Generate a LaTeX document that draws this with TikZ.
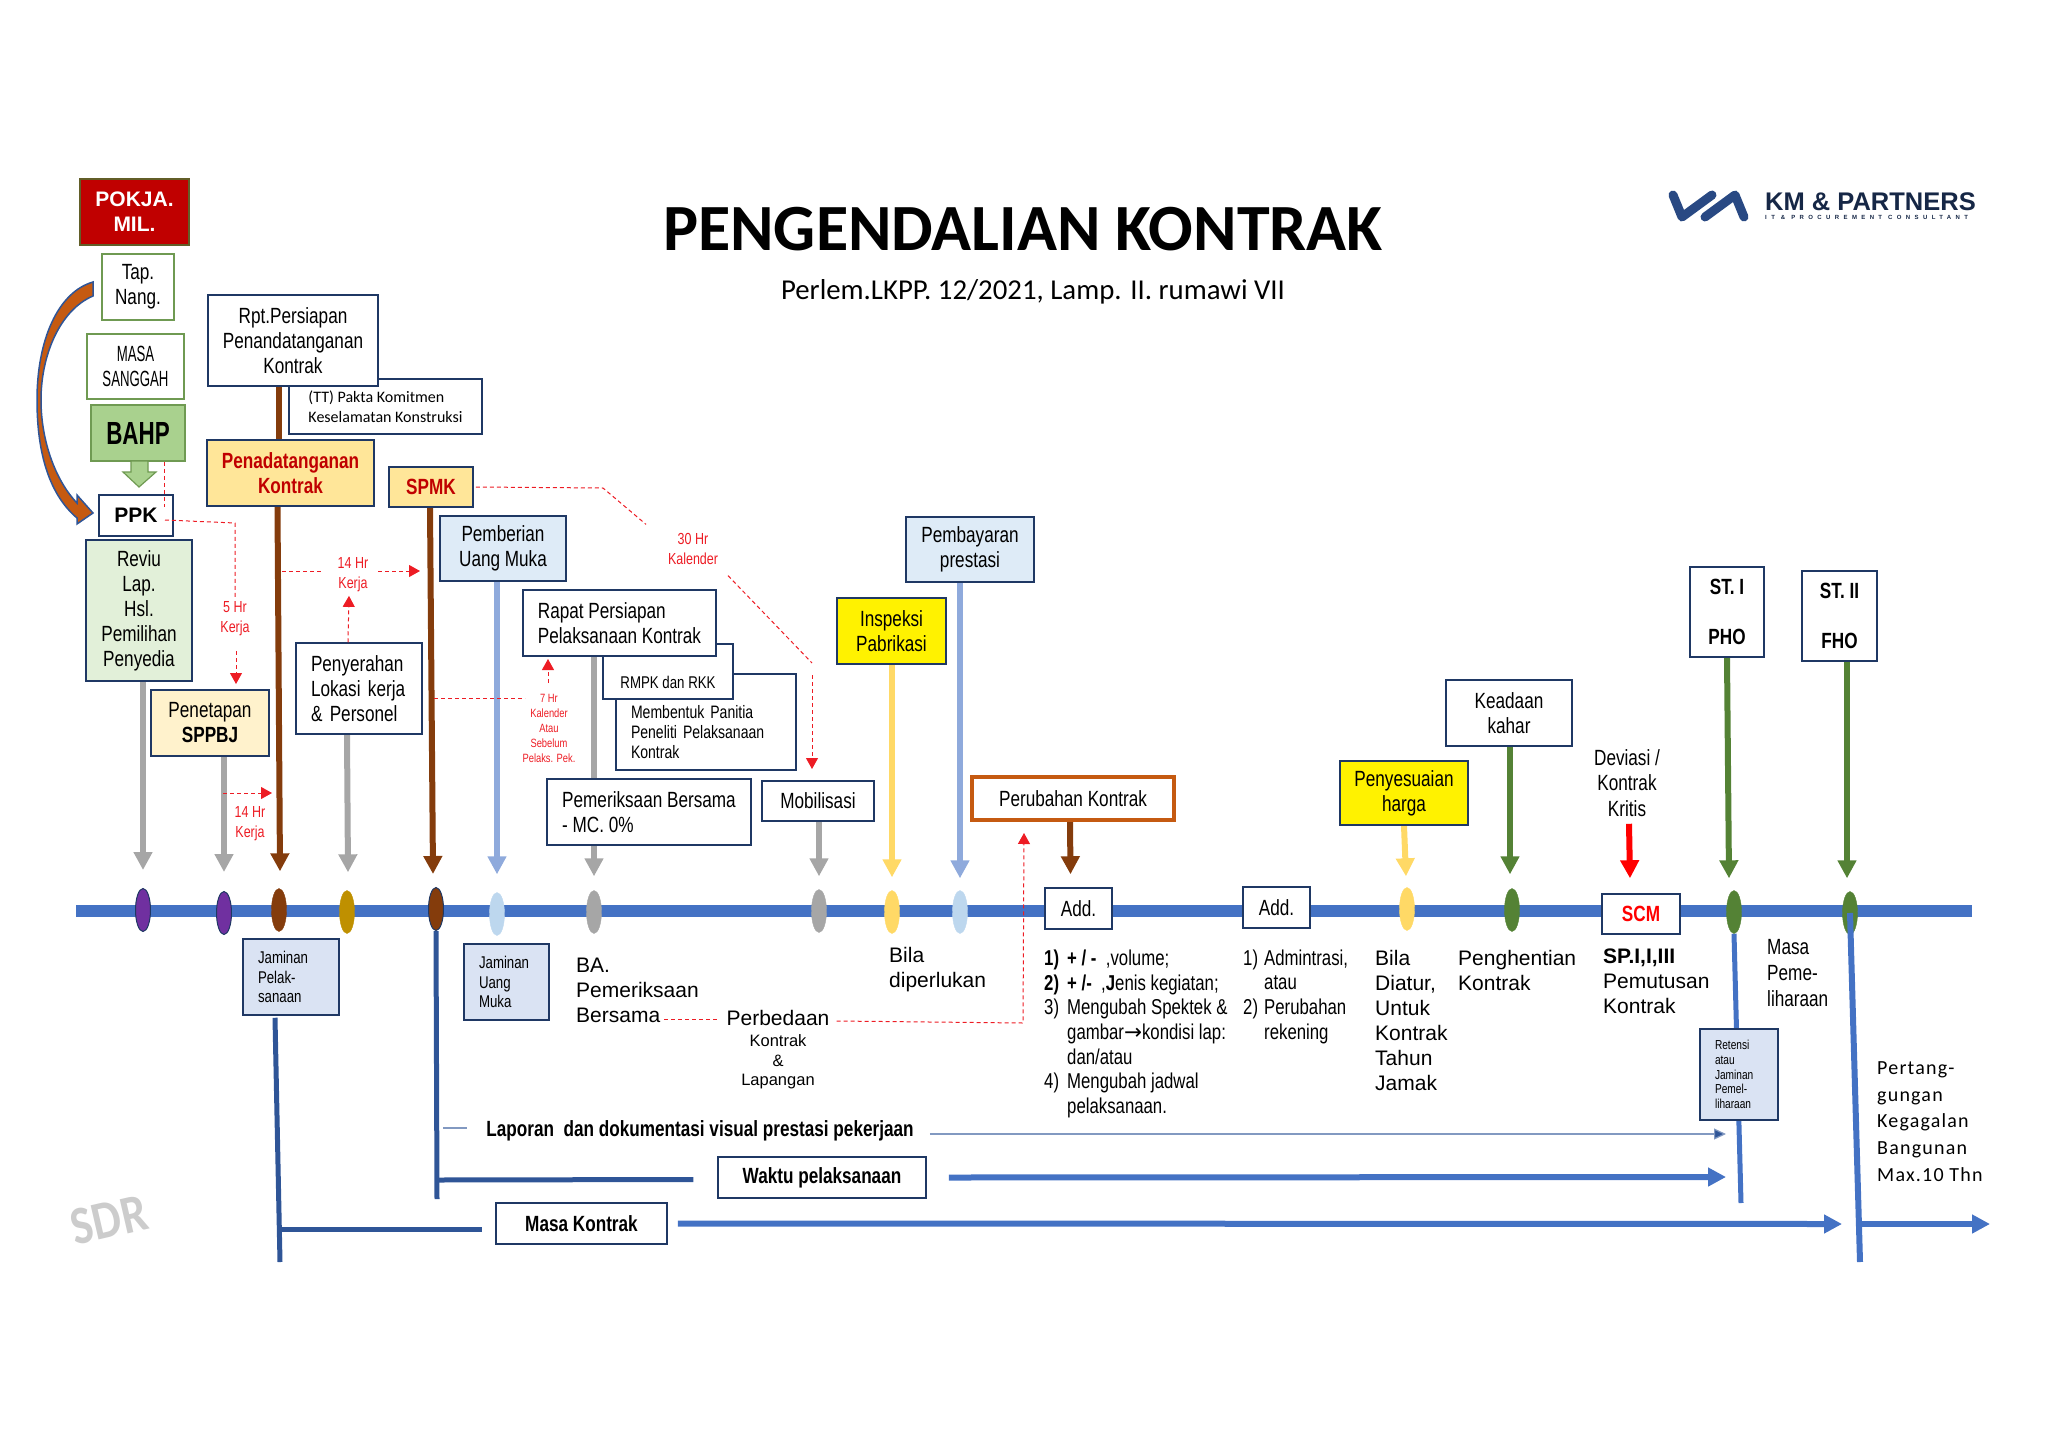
\documentclass[tikz,border=0pt]{standalone}
\usepackage{fontspec}
\setmainfont{Liberation Sans}
\newfontfamily\narrowfont[FakeStretch=0.78]{Liberation Sans}
\newfontfamily\tightfont[FakeStretch=0.6]{Liberation Sans}
\newfontfamily\bahpfont[FakeStretch=0.7]{Liberation Sans}
\newfontfamily\carlitofont{Carlito}
\newfontfamily\sdrfont[FakeStretch=0.85]{Carlito}
\newfontfamily\spreadfont[LetterSpace=6]{Carlito}
\newfontfamily\logofont[LetterSpace=73]{Liberation Sans}
\newfontfamily\arrowfont{DejaVu Sans}
\usetikzlibrary{arrows.meta, shapes.geometric, backgrounds}
\definecolor{cnavy}{HTML}{1F3864}
\definecolor{cblue}{HTML}{4472C4}
\definecolor{cdark}{HTML}{2F5597}
\definecolor{cgrey}{HTML}{A6A6A6}
\definecolor{cbrown}{HTML}{843C0C}
\definecolor{cgold}{HTML}{BF9000}
\definecolor{cpurple}{HTML}{7030A0}
\definecolor{cgreen}{HTML}{548235}
\definecolor{cyellow}{HTML}{FFD966}
\definecolor{csky}{HTML}{8FAADC}
\definecolor{cpale}{HTML}{BDD7EE}
\definecolor{corange}{HTML}{C55A11}
\definecolor{cred}{HTML}{ED1C24}
\definecolor{cdarkred}{HTML}{C00000}
\definecolor{cmoss}{HTML}{A9D18E}
\definecolor{cmint}{HTML}{E2F0D9}
\definecolor{ccream}{HTML}{FFF2CC}
\definecolor{csand}{HTML}{FFE699}
\definecolor{cice}{HTML}{DEEBF7}
\definecolor{cmist}{HTML}{DAE3F3}
\definecolor{cleaf}{HTML}{6F9A52}
\newcommand{\fs}[2]{\fontsize{#1}{#2}\selectfont}
\tikzset{
  box/.style={draw=cnavy, fill=#1, line width=1.5pt, align=center, inner sep=0pt, text=black, font=\narrowfont\fs{22}{25}},
  box/.default=white,
  grbox/.style={draw=cleaf, fill=white, line width=1.5pt, align=center, inner sep=0pt, font=\narrowfont\fs{22}{25}},
  gold/.style={box=csand, text=cdarkred, font=\narrowfont\bfseries\fs{22}{25}},
  small/.style={box=#1, font=\narrowfont\fs{17}{19.5}},
  plain/.style={inner sep=0pt, align=left, font=\fs{21}{25}},
  narrow/.style={inner sep=0pt, align=left, font=\narrowfont\fs{21.5}{24.7}},
  redlab/.style={inner sep=0pt, align=center, text=cred, font=\narrowfont\fs{16}{20}},
  mile/.style={ellipse, fill=#1, draw=#1, minimum width=15pt, minimum height=43pt, inner sep=0pt},
  tlarrow/.style={draw=#1, line width=6pt, -{Triangle[length=18pt,width=18pt,fill=#1]}},
  durline/.style={draw=#1, line width=5pt},
  reddash/.style={draw=cred, line width=1pt, dash pattern=on 4pt off 3pt},
  redarrow/.style={reddash, -{Triangle[length=11pt,width=12pt,fill=cred]}},
  every picture/.style={x=1pt, y=-1pt},
}
\begin{document}
\begin{tikzpicture}
\useasboundingbox (0,0) rectangle (2048,1448);

% title and logo
\node[inner sep=0pt, font=\carlitofont\bfseries\fs{66}{70}] (title) at (1023,229) {PENGENDALIAN KONTRAK};
\node[inner sep=0pt, font=\carlitofont\fs{28.8}{30}] (subtitle) at (1033,292) {Perlem.LKPP. 12/2021, Lamp. II. rumawi VII};
\draw[line width=9pt, line cap=round, line join=round, draw=cdark!60!cnavy] (1673,195) -- (1682,217) -- (1712,195);
\draw[line width=9pt, line cap=round, line join=round, draw=cdark!60!cnavy] (1705,217) -- (1735,195) -- (1744,217);
\node[inner sep=0pt, anchor=west, text=cnavy!70!black, font=\bfseries\fs{25.5}{28}] (kmtext) at (1765,202) {KM \& PARTNERS};
\node[inner sep=0pt, anchor=west, text=cnavy!70!black, font=\logofont\bfseries\fs{6}{8}] (kmsub) at (1765,217) {IT \& PROCUREMENT CONSULTANT};
\node[inner sep=0pt, rotate=13, text=black!20, font=\sdrfont\bfseries\fs{54}{60}] (sdr) at (109,1220) {SDR};

% left column
\node[box=cdarkred, draw=olive!60!black, text=white, minimum width=109pt, minimum height=66pt, font=\bfseries\fs{21}{25}] (pokja) at (134.5,212) {POKJA.\\MIL.};
\node[grbox, minimum width=72pt, minimum height=66pt] (tap) at (138,287) {Tap.\\Nang.};
\node[grbox, minimum width=97pt, minimum height=65pt, font=\tightfont\fs{22}{25}] (masa) at (135.5,366.5) {MASA\\SANGGAH};
\node[grbox, fill=cmoss, minimum width=94pt, minimum height=56pt, font=\bahpfont\bfseries\fs{32}{34}] (bahp) at (138,433) {BAHP};
\draw[draw=cleaf, fill=cmoss, line width=1.2pt] (131,461) -- (148,461) -- (148,472) -- (156,472) -- (139,487) -- (123,472) -- (131,472) -- cycle;
\node[box, minimum width=74pt, minimum height=41pt, font=\bfseries\fs{21}{25}] (ppk) at (136,515.5) {PPK};
\node[box=cmint, minimum width=106pt, minimum height=141pt] (reviu) at (139,610.5) {Reviu\\Lap.\\Hsl.\\Pemilihan\\Penyedia};
\node[box=ccream, minimum width=118pt, minimum height=66pt] (sppbj) at (210,723) {Penetapan\\\textbf{SPPBJ}};
\draw[draw=cdark, fill=corange, line width=1.5pt] (93,282) .. controls (58,292) and (37,340) .. (37,400) .. controls (37,455) and (50,495) .. (77,518) -- (77,524) -- (93,513) -- (77,495) -- (77,503) .. controls (55,480) and (41,440) .. (41,400) .. controls (41,355) and (60,310) .. (93,296) -- cycle;

% boxes above the line
\node[box, minimum width=193pt, minimum height=55pt, font=\carlitofont\fs{16}{19.5}, align=left] (pakta) at (385.5,406.5) {(TT) Pakta Komitmen\\Keselamatan Konstruksi};
\node[box, minimum width=170pt, minimum height=91pt] (rpt) at (293,340.5) {Rpt.Persiapan\\Penandatanganan\\Kontrak};
\node[gold, minimum width=167pt, minimum height=66pt] (penad) at (290.5,473) {Penadatanganan\\Kontrak};
\node[gold, minimum width=84pt, minimum height=40pt] (spmk) at (431,487) {SPMK};
\node[box=cice, minimum width=126pt, minimum height=65pt] (pemberian) at (503,548.5) {Pemberian\\Uang Muka};
\node[box, text width=96pt, inner xsep=15pt, minimum height=91pt, align=left] (penyerahan) at (359,688.5) {Penyerahan\\Lokasi kerja\\\& Personel};
\node[small, text width=150pt, inner xsep=15pt, minimum height=96pt, align=left, font=\narrowfont\fs{18}{20}] (panitia) at (706,722) {\strut\\Membentuk Panitia\\Peneliti Pelaksanaan\\Kontrak};
\node[small, minimum width=130pt, minimum height=55pt, font=\narrowfont\fs{17}{20}] (rmpk) at (668,671.5) {\strut\\RMPK dan RKK};
\node[box, minimum width=193pt, minimum height=66pt, align=left] (rapat) at (619.5,623) {Rapat Persiapan\\Pelaksanaan Kontrak};
\node[box, minimum width=204pt, minimum height=66pt, align=left] (mc) at (649,812) {Pemeriksaan Bersama\\- MC. 0\%};
\node[box, minimum width=112pt, minimum height=40pt] (mobil) at (818,801) {Mobilisasi};
\node[box=yellow, minimum width=109pt, minimum height=66pt] (inspeksi) at (891.5,631) {Inspeksi\\Pabrikasi};
\node[box=cice, minimum width=128pt, minimum height=65pt] (bayar) at (970,549.5) {Pembayaran\\prestasi};
\node[box, draw=corange, line width=3.5pt, minimum width=202pt, minimum height=43pt] (perubahan) at (1073,798.5) {Perubahan Kontrak};
\node[box=yellow, minimum width=128pt, minimum height=64pt] (sesuai) at (1404,793) {Penyesuaian\\harga};
\node[box, minimum width=126pt, minimum height=66pt] (kahar) at (1509,713) {Keadaan\\kahar};
\node[narrow, align=center, font=\narrowfont\fs{22}{25.5}] (deviasi) at (1627,783) {Deviasi /\\Kontrak\\Kritis};
\node[box, minimum width=74pt, minimum height=90pt, font=\narrowfont\bfseries\fs{22}{25}] (sti) at (1727,612) {ST. I\\\mbox{}\\PHO};
\node[box, minimum width=75pt, minimum height=90pt, font=\narrowfont\bfseries\fs{22}{25}] (stii) at (1839.5,616) {ST. II\\\mbox{}\\FHO};

% points on the line
\node[mile=cpurple, draw=cnavy, line width=1pt] (e1) at (143,910) {};
\node[mile=cpurple, draw=cnavy, line width=1pt] (e2) at (224,913) {};
\node[mile=cbrown] (e3) at (279,910) {};
\node[mile=cgold] (e4) at (347,912) {};
\node[mile=cbrown, draw=cnavy, line width=1pt] (e5) at (436,909) {};
\node[mile=cpale] (e6) at (497,914) {};
\node[mile=cgrey] (e7) at (594,912) {};
\node[mile=cgrey] (e8) at (819,911) {};
\node[mile=cyellow] (e9) at (892,912) {};
\node[mile=cpale] (e10) at (960,912) {};
\node[mile=cyellow] (e11) at (1407,909) {};
\node[mile=cgreen] (e12) at (1512,910) {};
\node[mile=cgreen] (e13) at (1734,912) {};
\node[mile=cgreen] (e14) at (1850,913) {};
\node[box, minimum width=67pt, minimum height=41pt] (addi) at (1078.5,908.5) {Add.};
\node[box, minimum width=67pt, minimum height=41pt] (addii) at (1276.5,907.5) {Add.};
\node[box, minimum width=78pt, minimum height=40pt, text=red, font=\narrowfont\bfseries\fs{22}{25}] (scm) at (1641,914) {SCM};

% boxes and texts below the line
\node[small=cmist, text width=66pt, inner xsep=15pt, minimum height=76pt, align=left] (jampelak) at (291,977) {Jaminan\\Pelak-\\sanaan};
\node[small=cmist, text width=55pt, inner xsep=15pt, minimum height=76pt, align=left] (jamuang) at (506.5,982) {Jaminan\\Uang\\Muka};
\node[small=cmist, text width=48pt, inner xsep=15pt, minimum height=91pt, align=left, font=\narrowfont\fs{13}{14.7}] (retensi) at (1739,1074.5) {Retensi\\atau\\Jaminan\\Pemel-\\liharaan};
\node[plain, anchor=west] (ba) at (576,990) {BA.\\Pemeriksaan\\Bersama};
\node[plain] (perbedaan) at (778,1018) {Perbedaan};
\node[plain, align=center, font=\fs{16.5}{19.5}] (lapangan) at (778,1062) {Kontrak\\\&\\Lapangan};
\node[plain, anchor=west] (bila) at (889,969.5) {Bila\\diperlukan};
\node[narrow, anchor=west] (listi) at (1044,1034) {\makebox[23pt][l]{\textbf{1)}}\textbf{+ / -}\ \ ,volume;\\\makebox[23pt][l]{\textbf{2)}}\textbf{+ /-}\ \ ,\textbf{J}enis kegiatan;\\\makebox[23pt][l]{3)}Mengubah Spektek \&\\\makebox[23pt][l]{}gambar{\arrowfont→}kondisi lap:\\\makebox[23pt][l]{}dan/atau\\\makebox[23pt][l]{4)}Mengubah jadwal\\\makebox[23pt][l]{}pelaksanaan.};
\node[narrow, anchor=west] (listii) at (1243,996.5) {\makebox[21pt][l]{1)}Admintrasi,\\\makebox[21pt][l]{}atau\\\makebox[21pt][l]{2)}Perubahan\\\makebox[21pt][l]{}rekening};
\node[plain, anchor=west] (diatur) at (1375,1020.5) {Bila\\Diatur,\\Untuk\\Kontrak\\Tahun\\Jamak};
\node[plain, anchor=west] (henti) at (1458,970) {Penghentian\\Kontrak};
\node[plain, anchor=west] (putus) at (1603,981) {\textbf{SP.I,I,III}\\Pemutusan\\Kontrak};
\node[narrow, anchor=west, font=\narrowfont\fs{22}{26}] (pelihara) at (1767,973) {Masa\\Peme-\\liharaan};
\node[inner sep=0pt, anchor=west, align=left, font=\spreadfont\fs{20}{26.7}] (gagal) at (1877,1121.5) {Pertang-\\gungan\\Kegagalan\\Bangunan\\Max.10 Thn};
\node[inner sep=0pt, font=\narrowfont\bfseries\fs{22}{25}] (laporan) at (700,1131) {Laporan\ \ dan dokumentasi visual prestasi pekerjaan};
\node[box, minimum width=208pt, minimum height=41pt, font=\narrowfont\bfseries\fs{22}{25}] (waktu) at (822,1177.5) {Waktu pelaksanaan};
\node[box, minimum width=171pt, minimum height=41pt, font=\narrowfont\bfseries\fs{22}{25}] (masak) at (581.5,1223.5) {Masa Kontrak};

% red labels
\node[redlab] (lbfive) at (235,619) {5 Hr\\Kerja};
\node[redlab] (lbfourt) at (353,574.5) {14 Hr\\Kerja};
\node[redlab] (lbfourb) at (250,824) {14 Hr\\Kerja};
\node[redlab, font=\narrowfont\fs{12}{15}] (lbseven) at (549,728) {7 Hr\\Kalender\\Atau\\Sebelum\\Pelaks. Pek.};
\node[redlab, font=\narrowfont\fs{16}{19.5}] (lbthirty) at (693,549) {30 Hr\\Kalender};

% free ends
\coordinate (tlstart) at (76,911);
\coordinate (tlend) at (1972,911);
\coordinate (jpbend) at (280,1229);
\coordinate (jpend) at (280,1262);
\coordinate (umbend) at (437,1180);
\coordinate (umend) at (437,1199);
\coordinate (fhoend) at (1860,1262);
\coordinate (phoend) at (1741,1203);
\coordinate (lapstart) at (443,1128);
\coordinate (laptip) at (1726,1134);
\coordinate (waktutip) at (1726,1177);
\coordinate (masatip) at (1842,1224);
\coordinate (gagalstart) at (1862,1224);
\coordinate (gagaltip) at (1990,1224);

\begin{scope}[on background layer]
  \draw[cblue, line width=12pt] (tlstart) -- (tlend);
  \draw[tlarrow=cgrey] (reviu.south -| e1) -- ([yshift=18pt]e1.north);
  \draw[tlarrow=cgrey] (sppbj.south -| e2) -- ([yshift=19pt]e2.north);
  \draw[cbrown, line width=6pt] ([xshift=-14pt]rpt.south) -- ([xshift=-11.5pt]penad.north);
  \draw[tlarrow=cbrown] ([xshift=-13pt]penad.south) -- ([xshift=1pt,yshift=17pt]e3.north);
  \draw[tlarrow=cgrey] (penyerahan.south -| e4) -- ([xshift=1pt,yshift=18pt]e4.north);
  \draw[tlarrow=cbrown] ([xshift=-1pt]spmk.south) -- ([xshift=-3pt,yshift=13pt]e5.north);
  \draw[tlarrow=csky] (pemberian.south -| e6) -- ([yshift=18pt]e6.north);
  \draw[tlarrow=cgrey] (rapat.south -| e7) -- ([yshift=14pt]e7.north);
  \draw[tlarrow=cgrey] (mobil.south -| e8) -- ([yshift=13pt]e8.north);
  \draw[tlarrow=cyellow] (inspeksi.south -| e9) -- ([yshift=13pt]e9.north);
  \draw[tlarrow=csky] (bayar.south -| e10) -- ([yshift=12pt]e10.north);
  \draw[tlarrow=cbrown] ([xshift=-3pt]perubahan.south) -- ([xshift=-8pt,yshift=13pt]addi.north);
  \draw[tlarrow=cyellow] (sesuai.south) -- ([xshift=-1pt,yshift=11pt]e11.north);
  \draw[tlarrow=cgreen] ([xshift=1pt]kahar.south) -- ([xshift=-2pt,yshift=14pt]e12.north);
  \draw[tlarrow=red] ([xshift=2pt,yshift=-7pt]deviasi.south) -- ([xshift=-11pt,yshift=15pt]scm.north);
  \draw[tlarrow=cgreen] (sti.south) -- ([xshift=-5pt,yshift=12pt]e13.north);
  \draw[tlarrow=cgreen] ([xshift=7.5pt]stii.south) -- ([xshift=-3pt,yshift=13pt]e14.north);
  % periods under the line
  \draw[durline=cdark] ([xshift=-16pt,yshift=-2pt]jampelak.south) -- (jpend);
  \draw[durline=cdark] (jpbend) -- ([xshift=-13pt,yshift=-5.5pt]masak.west);
  \draw[durline=cdark] (e5.south) -- (umend);
  \draw[durline=cdark] (umbend) -- ([xshift=-24pt,yshift=-2pt]waktu.west);
  \draw[durline=cblue] (e13.south) -- (phoend);
\end{scope}

\draw[durline=cblue, line width=6pt] (e14.center) -- (fhoend);
\draw[cdark!60, line width=1.2pt] (lapstart) -- ([xshift=-19pt,yshift=3pt]laporan.west);
\draw[cdark!60, line width=1.2pt, -{Triangle[length=12pt,width=11pt,fill=cdark]}] ([xshift=16pt,yshift=-3pt]laporan.east) -- (laptip);
\draw[tlarrow=cblue] ([xshift=22pt]waktu.east) -- (waktutip);
\draw[tlarrow=cblue] ([xshift=10pt]masak.east) -- (masatip);
\draw[tlarrow=cblue] (gagalstart) -- (gagaltip);

% red dashed links
\coordinate (ppkin) at (164,507);
\coordinate (fiveup) at (236,651);
\coordinate (fivetip) at (236,684);
\coordinate (topleft) at (282,571);
\coordinate (topright) at (322,571);
\coordinate (toptip) at (420,571);
\coordinate (sppbjhr) at (223,793);
\coordinate (sppbjtip) at (272,793);
\coordinate (sevenleft) at (434,698);
\coordinate (sevenright) at (525,698);
\coordinate (sevenstart) at (548,683);
\coordinate (seventip) at (548,659);
\coordinate (thirtydown) at (812,675);
\coordinate (thirtytip) at (812,769);
\coordinate (baout) at (664,1019);
\coordinate (perbin) at (717,1019);
\coordinate (difftip) at (1024,833);
\draw[reddash] ([xshift=26pt]bahp.south) -- (ppkin);
\draw[reddash] ([xshift=29pt,yshift=-4.5pt]ppk.center) -- (235,523) -- ([yshift=3pt]lbfive.north);
\draw[redarrow] (fiveup) -- (fivetip);
\draw[reddash] (topleft) -- (topright);
\draw[redarrow] ([xshift=10pt,yshift=3.5pt]lbfourt.east) -- (toptip);
\draw[redarrow] ([xshift=-11pt]penyerahan.north) -- ([xshift=-4pt,yshift=-4pt]lbfourt.south);
\draw[redarrow] (sppbjhr) -- (sppbjtip);
\draw[reddash] (sevenleft) -- (sevenright);
\draw[redarrow] (sevenstart) -- (seventip);
\draw[reddash] ([xshift=2pt]spmk.east) -- (603,488) -- ([xshift=-47pt,yshift=9pt]lbthirty.north);
\draw[reddash] ([xshift=35pt,yshift=-11pt]lbthirty.south) -- (812,663);
\draw[redarrow] (thirtydown) -- (thirtytip);
\draw[reddash] (baout) -- (perbin);
\draw[redarrow] ([xshift=7pt,yshift=-3pt]perbedaan.east) -- (1023,1023) -- (difftip);
\end{tikzpicture}
\end{document}
